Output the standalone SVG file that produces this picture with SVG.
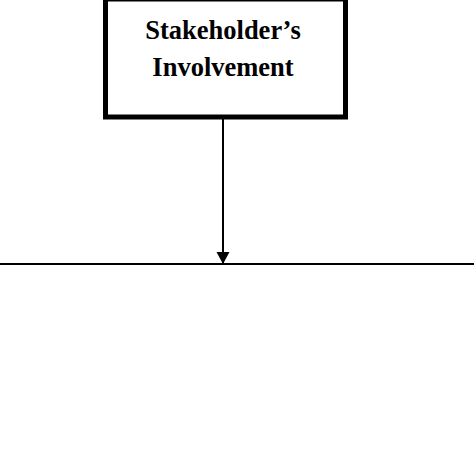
<svg xmlns="http://www.w3.org/2000/svg" width="474" height="474" viewBox="0 0 474 474">
<style>
.box{fill:#fff;stroke:#000;stroke-width:5}
.lbl{font-family:"Liberation Serif","Times New Roman",serif;font-weight:bold;font-size:26.5px;fill:#000;text-anchor:middle}
.ln{stroke:#000;stroke-width:2;fill:none}
</style>
<defs>
<marker id="ah" markerUnits="userSpaceOnUse" markerWidth="13" markerHeight="14" refX="12" refY="7" orient="auto" viewBox="0 0 13 14">
<path d="M0,0.5 L12,7 L0,13.5 Z" fill="#000"/>
</marker>
</defs>
<g id="connectors">
<line class="ln" x1="223" y1="119" x2="223" y2="264" marker-end="url(#ah)"/>
<line class="ln" x1="0" y1="264" x2="474" y2="264"/>
</g>
<g id="stakeholder">
<rect class="box" x="105.5" y="-1" width="240" height="118"/>
<text class="lbl" x="223" y="39">Stakeholder’s</text>
<text class="lbl" x="223" y="76">Involvement</text>
</g>
</svg>
